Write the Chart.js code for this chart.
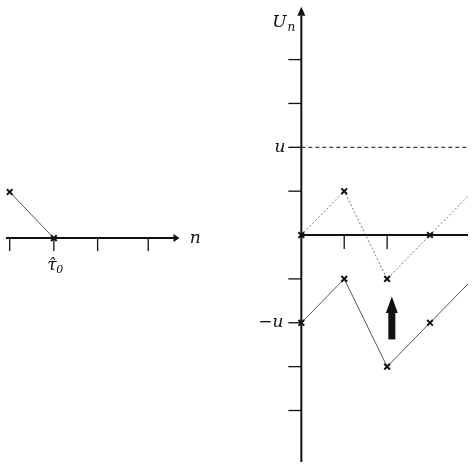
<!DOCTYPE html>
<html>
<head>
<meta charset="utf-8">
<script src="https://cdn.jsdelivr.net/npm/chart.js@4"></script>
<style>
  html, body { margin: 0; padding: 0; background: #fff; }
  #wrap { width: 474px; height: 474px; }
</style>
</head>
<body>
<div id="wrap"><canvas id="c"></canvas></div>
<script>
// units: right panel origin = (0,0), one step on each axis = one tick
const leftX = [-6.80, -5.77];
const leftY = [0.98, -0.07];
const leftTicks = [-6.80, -5.77, -4.75, -3.57];
const stepsN = [0, 1, 2, 3, 4];
const dottedU = [0, 1, -1, 0, 1];
const solidU = [-2, -1, -3, -2, -1];
const yTicks = [4, 3, 2, 1, -1, -2, -3, -4];
const threshold = 2;

const ink = '#111';
const serif = 'italic 17px "DejaVu Serif", "Liberation Serif", serif';

const pts = (xs, ys) => xs.map((x, i) => ({ x, y: ys[i] }));

// axes, ticks, labels and the big arrow are drawn from the scales
const diagram = {
  id: 'diagram',
  beforeDatasetsDraw(chart) {
    const { ctx, scales: { x, y } } = chart;
    const X = v => x.getPixelForValue(v), Y = v => y.getPixelForValue(v);
    ctx.save();
    ctx.strokeStyle = ink; ctx.fillStyle = ink;

    // dashed threshold line
    ctx.lineWidth = 1; ctx.setLineDash([4, 3]);
    ctx.beginPath(); ctx.moveTo(X(0), Y(threshold)); ctx.lineTo(X(x.max), Y(threshold)); ctx.stroke();
    ctx.setLineDash([]);

    // left horizontal axis
    const ly = Y(-0.07);
    ctx.lineWidth = 2;
    ctx.beginPath(); ctx.moveTo(X(x.min), ly); ctx.lineTo(X(-2.95), ly); ctx.stroke();
    ctx.beginPath(); ctx.moveTo(X(-2.84), ly); ctx.lineTo(X(-2.98), ly - 4); ctx.lineTo(X(-2.98), ly + 4); ctx.closePath(); ctx.fill();
    ctx.lineWidth = 1.3;
    leftTicks.forEach(t => { ctx.beginPath(); ctx.moveTo(X(t), ly); ctx.lineTo(X(t), ly + 13); ctx.stroke(); });

    // right vertical axis
    ctx.lineWidth = 2;
    ctx.beginPath(); ctx.moveTo(X(0), Y(y.min) - 6); ctx.lineTo(X(0), Y(5.0)); ctx.stroke();
    ctx.beginPath(); ctx.moveTo(X(0), Y(5.0) - 9); ctx.lineTo(X(0) - 4, Y(5.0)); ctx.lineTo(X(0) + 4, Y(5.0)); ctx.closePath(); ctx.fill();
    // right horizontal axis
    ctx.beginPath(); ctx.moveTo(X(0), Y(0)); ctx.lineTo(X(x.max), Y(0)); ctx.stroke();
    ctx.lineWidth = 1.3;
    yTicks.forEach(t => { ctx.beginPath(); ctx.moveTo(X(0) - 13, Y(t)); ctx.lineTo(X(0), Y(t)); ctx.stroke(); });
    [1, 2].forEach(t => { ctx.beginPath(); ctx.moveTo(X(t), Y(0)); ctx.lineTo(X(t), Y(0) + 14); ctx.stroke(); });

    // thick upward arrow
    const ax = X(2.11);
    ctx.fillRect(ax - 3.5, Y(-1.75), 7, Y(-2.38) - Y(-1.75));
    ctx.beginPath(); ctx.moveTo(ax, Y(-1.4)); ctx.lineTo(ax - 6, Y(-1.78)); ctx.lineTo(ax + 6, Y(-1.78)); ctx.closePath(); ctx.fill();

    // labels
    ctx.font = serif; ctx.textBaseline = 'middle';
    ctx.textAlign = 'left';
    ctx.fillText('n', X(-2.6), ly);
    ctx.textAlign = 'right';
    ctx.fillText('u', X(0) - 16, Y(threshold));
    ctx.fillText('\u2212u', X(0) - 18, Y(-threshold));
    ctx.textAlign = 'center';
    ctx.fillText('\u03C4\u0302', X(-5.77) - 2, ly + 27);
    ctx.font = 'italic 11px "DejaVu Serif", serif';
    ctx.fillText('0', X(-5.77) + 6, ly + 32);
    ctx.font = serif;
    ctx.fillText('U', X(0) - 22, Y(4.85));
    ctx.font = 'italic 12px "DejaVu Serif", serif';
    ctx.fillText('n', X(0) - 10, Y(4.72));
    ctx.restore();
  }
};

const markerStyle = { pointStyle: 'crossRot', pointRadius: 4, pointBorderWidth: 2, pointBorderColor: ink };

new Chart(document.getElementById('c'), {
  type: 'line',
  data: {
    datasets: [
      { data: pts(leftX, leftY), borderColor: '#555', borderWidth: 1, ...markerStyle },
      { data: pts(stepsN, dottedU), borderColor: '#777', borderWidth: 1, borderDash: [2, 2], ...markerStyle },
      { data: pts(stepsN, solidU), borderColor: '#555', borderWidth: 1, ...markerStyle },
    ],
  },
  options: {
    responsive: true,
    maintainAspectRatio: false,
    animation: false,
    layout: { padding: 0 },
    plugins: { legend: { display: false }, tooltip: { enabled: false } },
    scales: {
      x: { type: 'linear', min: -6.886, max: 3.886, display: false },
      y: { type: 'linear', min: -5.311, max: 5.222, display: false },
    },
  },
  plugins: [diagram],
});
</script>
</body>
</html>
